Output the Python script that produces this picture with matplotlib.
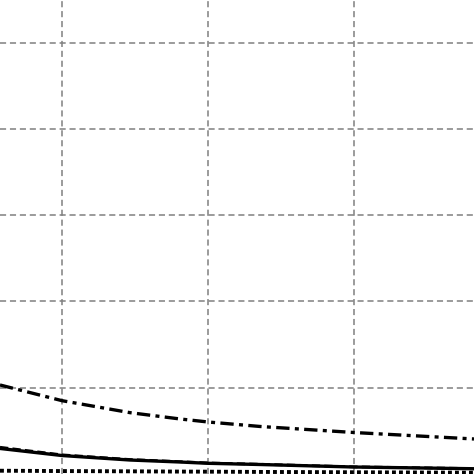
import numpy as np
import matplotlib.pyplot as plt

# values
x = [0.575, 1.0, 1.466, 1.808, 2.0, 2.356, 3.0, 3.822]
dashdot = [0.1032, 0.0850, 0.0711, 0.0638, 0.0603, 0.0551, 0.0481, 0.0406]
solid = [0.0296, 0.0214, 0.0162, 0.0139, 0.0124, 0.0110, 0.0081, 0.0061]
dashed = [0.0310, 0.0222, 0.0168, 0.0143, 0.0128, 0.0113, 0.0083, 0.0063]
dotted = [0.0038, 0.0034, 0.0031, 0.0028, 0.0027, 0.0024, 0.0020, 0.0015]

xticks = [1, 2, 3]
yticks = [0.1, 0.2, 0.3, 0.4, 0.5]

fig = plt.figure(figsize=(4.74, 4.74), dpi=100)
ax = fig.add_axes([0, 0, 1, 1])

ax.plot(x, dashdot, color='black', linestyle=(0, (4, 1.6, 1.2, 1.6)), linewidth=2.4)
ax.plot(x, dashed, color='black', linestyle=(0, (3, 1.5)), linewidth=2.0)
ax.plot(x, solid, color='black', linestyle='-', linewidth=2.4)
ax.plot(x, dotted, color='black', linestyle=(0, (1, 0.8)), linewidth=2.8,
        dash_capstyle='butt')

ax.set_xlim(0.575, 3.822)
ax.set_ylim(0.0, 0.5495)
ax.set_xticks(xticks)
ax.set_yticks(yticks)
ax.grid(True, color='gray', linestyle=(0, (4, 2.5)), linewidth=1.1)
ax.tick_params(length=0, labelbottom=False, labelleft=False)
for s in ax.spines.values():
    s.set_visible(False)

plt.savefig('out.png', dpi=100)
